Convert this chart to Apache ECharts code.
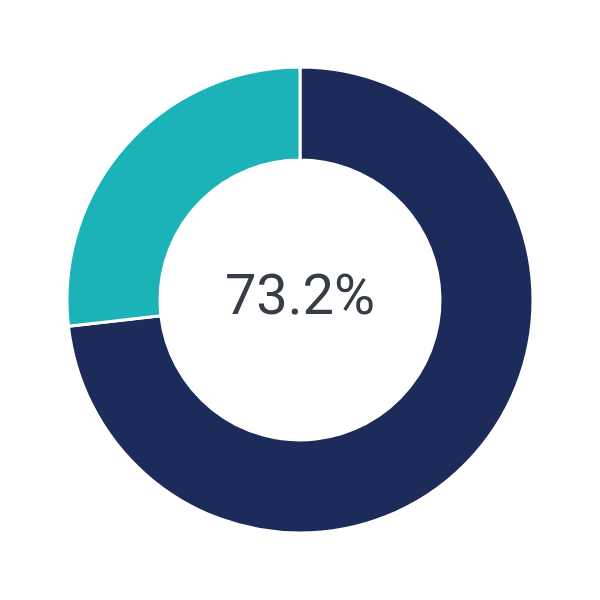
<!doctype html>
<html lang="en">
    <head>
        <meta charset="UTF-8">
        <style>
            html, body { margin: 0; padding: 0; background: #fff; }
        </style>
    </head>
    <body>
        <div id="main" style="width: 600px;height:600px;"></div>
        <script src="https://cdn.jsdelivr.net/npm/echarts@6/dist/echarts.min.js"></script>
        <script type="text/javascript">
        // data
        var categories = ['A', 'B'];
        var values = [73.2, 26.8];
        var colors = ['#1c2b5a', '#1cb3b8'];
        var centerLabel = '73.2%';

        var myChart = echarts.init(document.getElementById('main'));

        var pieData = [];
        for (var i = 0; i < categories.length; i++) {
            pieData.push({ name: categories[i], value: values[i], itemStyle: { color: colors[i] } });
        }

        var option = {
            animation: false,
            title: {
                text: centerLabel,
                left: 'center',
                top: 'middle',
                textStyle: {
                    fontFamily: 'Roboto',
                    fontSize: 56,
                    fontWeight: 'normal',
                    color: '#373d46'
                }
            },
            series: [{
                type: 'pie',
                center: ['50%', '50%'],
                radius: [140, 233],
                startAngle: 90,
                clockwise: true,
                label: { show: false },
                labelLine: { show: false },
                itemStyle: {
                    borderColor: '#ffffff',
                    borderWidth: 3
                },
                data: pieData
            }]
        };
        myChart.setOption(option);
        </script>
    </body>
</html>
